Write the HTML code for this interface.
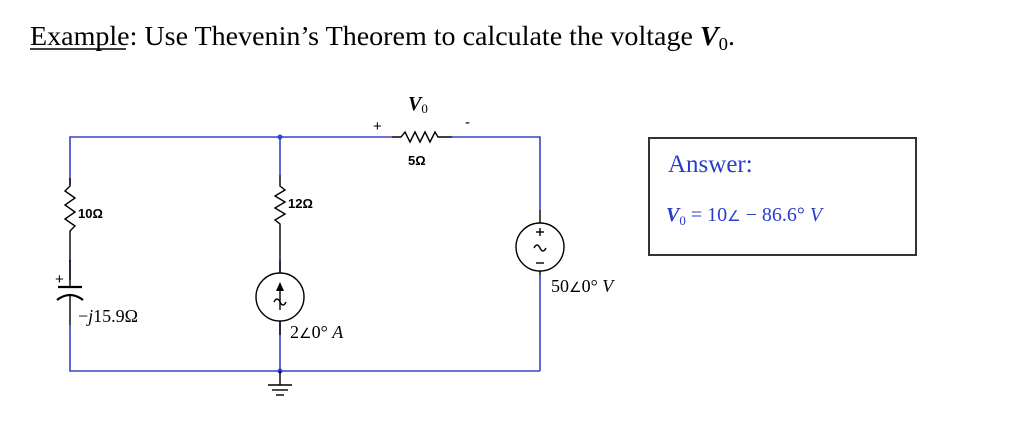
<!DOCTYPE html>
<html><head><meta charset="utf-8"><style>
html,body{margin:0;padding:0;background:#fff;width:1024px;height:421px;overflow:hidden}
</style></head><body>
<svg width="1024" height="421" xmlns="http://www.w3.org/2000/svg" style="display:block">
<g font-family="Liberation Serif, serif">
<text x="30" y="45" font-size="27" textLength="705" lengthAdjust="spacingAndGlyphs">Example: Use Thevenin’s Theorem to calculate the voltage <tspan font-weight="bold" font-style="italic">V</tspan><tspan font-size="18" dy="5">0</tspan><tspan dy="-5">.</tspan></text>
</g>
<line x1="30" y1="49" x2="126" y2="49" stroke="#000" stroke-width="1.5"/>
<g stroke="#3344cc" stroke-width="1.6" fill="none">
<polyline points="70,185 70,137 392,137"/>
<polyline points="452,137 540,137 540,210"/>
<line x1="540" y1="275" x2="540" y2="371"/>
<polyline points="70,325 70,371 540,371"/>
<line x1="280" y1="137" x2="280" y2="175"/>
<line x1="280" y1="260" x2="280" y2="272"/>
<line x1="280" y1="322" x2="280" y2="371"/>
<line x1="70" y1="260" x2="70" y2="280"/>
</g>
<circle cx="280" cy="137" r="2.5" fill="#3344cc"/>
<circle cx="280" cy="371" r="2.5" fill="#3344cc"/>
<g stroke="#000" stroke-width="1.4" fill="none">
<polyline points="70,178 70,186 65,191 75,198 65,205 75,212 65,219 75,226 70,231 70,262"/>
<line x1="70" y1="260" x2="70" y2="286"/>
<line x1="58" y1="287" x2="82" y2="287" stroke-width="2.2"/>
<path d="M57,300 Q70,290 83,300" stroke-width="2.2"/>
<line x1="70" y1="294" x2="70" y2="325"/>
<polyline points="280,175 280,186 285,190 275,196 285,202 275,208 285,214 275,220 280,224 280,260"/>
<line x1="280" y1="260" x2="280" y2="335"/>
<circle cx="280" cy="297" r="24" fill="#fff"/>
<line x1="280" y1="288" x2="280" y2="310"/>
<path d="M274,302 q3,-6 6,0 t6,0"/>
<polyline points="392,137 401,137 405,132 410,142 415,132 420,142 425,132 430,142 435,132 438,137 452,137"/>
<line x1="540" y1="210" x2="540" y2="275"/>
<circle cx="540" cy="247" r="24" fill="#fff"/>
<path d="M534,248 q3,-6 6,0 t6,0"/>
<line x1="536" y1="232" x2="544" y2="232"/><line x1="540" y1="228" x2="540" y2="236"/>
<line x1="536" y1="263" x2="544" y2="263"/>
<line x1="280" y1="371" x2="280" y2="385"/>
<line x1="268" y1="385" x2="292" y2="385"/>
<line x1="272" y1="390" x2="288" y2="390"/>
<line x1="276" y1="395" x2="284" y2="395"/>
</g>
<polygon points="280,282 276,291 284,291" fill="#000"/>
<g font-family="Liberation Sans, sans-serif" font-weight="bold" font-size="13">
<text x="78" y="218">10Ω</text>
<text x="288" y="208">12Ω</text>
<text x="408" y="165">5Ω</text>
</g>
<g font-family="Liberation Sans, sans-serif" font-size="15">
<text x="55" y="284">+</text>
<text x="373" y="131">+</text>
<text x="465" y="127">-</text>
</g>
<g font-family="Liberation Serif, serif" font-size="18">
<text x="78" y="322">−<tspan font-style="italic">j</tspan>15.9Ω</text>
<text x="290" y="338">2<tspan font-size="14">∠</tspan>0° <tspan font-style="italic">A</tspan></text>
<text x="551" y="292">50<tspan font-size="14">∠</tspan>0° <tspan font-style="italic">V</tspan></text>
<text x="408" y="110" font-weight="bold" font-style="italic" font-size="20">V<tspan font-size="13" font-style="normal" font-weight="normal" dy="3">0</tspan></text>
</g>
<rect x="649" y="138" width="267" height="117" fill="none" stroke="#333" stroke-width="2"/>
<g font-family="Liberation Serif, serif" fill="#2a3ccc">
<text x="668" y="172" font-size="25">Answer:</text>
<text x="666" y="221" font-size="20"><tspan font-weight="bold" font-style="italic">V</tspan><tspan font-size="13" dy="4">0</tspan><tspan dy="-4"> = 10<tspan font-size="15">∠</tspan> − 86.6° <tspan font-style="italic">V</tspan></tspan></text>
</g>
</svg>
</body></html>
